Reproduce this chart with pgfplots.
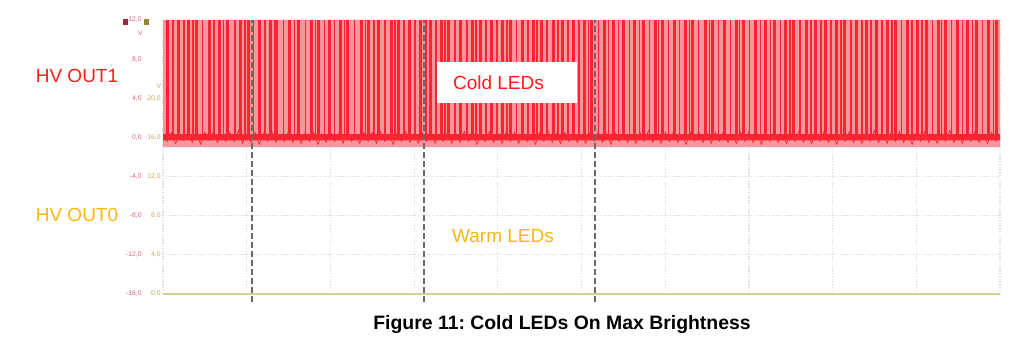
\documentclass[border=0pt]{standalone}
\usepackage{pgfplots}
\pgfplotsset{compat=1.18}
\usepackage{fontspec}
\setmainfont{Liberation Sans}
\definecolor{pinkbg}{RGB}{246,150,158}
\definecolor{darkred}{RGB}{250,36,50}
\definecolor{labred}{RGB}{255,28,28}
\definecolor{warm}{RGB}{252,182,20}
\definecolor{ticpink}{RGB}{222,100,118}
\definecolor{ticolive}{RGB}{192,172,96}
\definecolor{ch2}{RGB}{214,204,158}
\definecolor{gridc}{RGB}{220,225,225}
\definecolor{cursor}{RGB}{105,105,105}
\definecolor{sqred}{RGB}{160,40,55}
\definecolor{sqolive}{RGB}{150,135,50}
\begin{document}
\frenchspacing
\begin{tikzpicture}
\useasboundingbox (0,0) rectangle (512pt,174pt);
\begin{axis}[
  at={(81.5pt,27pt)}, anchor=south west,
  scale only axis, width=418.5pt, height=137pt,
  xmin=0, xmax=10, ymin=-16, ymax=12,
  xtick={0,1,...,10}, xticklabels={},
  ytick={-16,-12,...,12},
  grid=major,
  major grid style={gridc, line width=0.6pt, dash pattern=on 0.7pt off 0.7pt},
  axis line style={draw=none}, tick style={draw=none},
  ytick align=inside,
  yticklabel style={font=\fontsize{3.4}{4}\selectfont, text=ticpink, inner sep=0pt, anchor=east, xshift=-10.5pt,
    /pgf/number format/.cd, use comma, fixed, fixed zerofill, precision=1, assume math mode=true},
  clip=false,
]
% light pink envelope of the pulse train
\addplot[fill=pinkbg, draw=none] coordinates {(0,-1.0) (10,-1.0) (10,12) (0,12) (0,-1.0)};
% dark pulses (wide)
\addplot[ycomb, draw=darkred, line width=1.5pt, mark=none] coordinates {
(0.05,12)(0.19,12)(0.31,12)(0.40,12)(0.55,12)(0.68,12)(0.77,12)(0.93,12)(1.02,12)(1.15,12)(1.29,12)(1.36,12)(1.51,12)(1.62,12)(1.78,12)(1.86,12)(1.99,12)(2.12,12)(2.21,12)(2.37,12)(2.46,12)(2.58,12)(2.73,12)(2.81,12)(2.95,12)(3.08,12)(3.19,12)(3.33,12)(3.41,12)(3.56,12)(3.70,12)(3.79,12)(3.92,12)(4.06,12)(4.15,12)(4.29,12)(4.43,12)(4.52,12)(4.66,12)(4.77,12)(4.91,12)(5.03,12)(5.12,12)(5.27,12)(5.38,12)(5.50,12)(5.63,12)(5.74,12)(5.88,12)(5.97,12)(6.11,12)(6.24,12)(6.33,12)(6.48,12)(6.57,12)(6.71,12)(6.85,12)(6.93,12)(7.08,12)(7.20,12)(7.31,12)(7.44,12)(7.53,12)(7.69,12)(7.80,12)(7.91,12)(8.05,12)(8.14,12)(8.29,12)(8.40,12)(8.52,12)(8.66,12)(8.75,12)(8.89,12)(9.01,12)(9.12,12)(9.26,12)(9.35,12)(9.49,12)(9.61,12)(9.72,12)(9.86,12)(9.96,12)};
% dark pulses (narrow)
\addplot[ycomb, draw=darkred, line width=0.7pt, mark=none] coordinates {
(0.12,12)(0.25,12)(0.36,12)(0.47,12)(0.61,12)(0.72,12)(0.86,12)(0.98,12)(1.08,12)(1.22,12)(1.33,12)(1.44,12)(1.57,12)(1.70,12)(1.82,12)(1.93,12)(2.05,12)(2.17,12)(2.29,12)(2.42,12)(2.52,12)(2.65,12)(2.77,12)(2.88,12)(3.01,12)(3.14,12)(3.26,12)(3.37,12)(3.49,12)(3.63,12)(3.74,12)(3.86,12)(3.99,12)(4.11,12)(4.22,12)(4.36,12)(4.47,12)(4.59,12)(4.72,12)(4.84,12)(4.97,12)(5.08,12)(5.20,12)(5.32,12)(5.44,12)(5.57,12)(5.69,12)(5.81,12)(5.92,12)(6.04,12)(6.17,12)(6.29,12)(6.40,12)(6.53,12)(6.64,12)(6.78,12)(6.89,12)(7.01,12)(7.14,12)(7.26,12)(7.38,12)(7.49,12)(7.61,12)(7.74,12)(7.86,12)(7.98,12)(8.10,12)(8.22,12)(8.35,12)(8.46,12)(8.59,12)(8.71,12)(8.82,12)(8.95,12)(9.07,12)(9.19,12)(9.30,12)(9.42,12)(9.55,12)(9.67,12)(9.79,12)(9.92,12)};
% baseline band and noise
\addplot[fill=darkred, draw=none] coordinates {(0,-0.3) (10,-0.3) (10,0.35) (0,0.35) (0,-0.3)};
\addplot[darkred, line width=0.35pt, mark=none] coordinates {
(0,0.3)(0.05,-0.4)(0.1,0.5)(0.15,-0.6)(0.2,0.2)(0.25,-0.3)(0.3,0.6)(0.35,-0.5)(0.4,0.4)(0.45,-0.7)(0.5,0.5)(0.55,-0.3)(0.6,0.6)(0.65,-0.5)(0.7,0.2)(0.75,-0.4)(0.8,0.5)(0.85,-0.4)(0.9,0.7)(0.95,-0.6)(1.0,0.3)(1.05,-0.5)(1.1,0.5)(1.15,-0.7)(1.2,0.4)(1.25,-0.4)(1.3,0.6)(1.35,-0.5)(1.4,0.3)(1.45,-0.4)(1.5,0.6)(1.55,-0.5)(1.6,0.4)(1.65,-0.6)(1.7,0.5)(1.75,-0.4)(1.8,0.5)(1.85,-0.7)(1.9,0.3)(1.95,-0.5)(2.0,0.6)(2.05,-0.4)(2.1,0.4)(2.15,-0.6)(2.2,0.7)(2.25,-0.4)(2.3,0.3)(2.35,-0.6)(2.4,0.5)(2.45,-0.4)(2.5,0.5)(2.55,-0.6)(2.6,0.6)(2.65,-0.4)(2.7,0.3)(2.75,-0.7)(2.8,0.5)(2.85,-0.4)(2.9,0.6)(2.95,-0.5)(3.0,0.4)(3.05,-0.6)(3.1,0.5)(3.15,-0.4)(3.2,0.7)(3.25,-0.6)(3.3,0.3)(3.35,-0.4)(3.4,0.5)(3.45,-0.6)(3.5,0.4)(3.55,-0.5)(3.6,0.6)(3.65,-0.4)(3.7,0.5)(3.75,-0.7)(3.8,0.3)(3.85,-0.4)(3.9,0.6)(3.95,-0.5)(4.0,0.4)(4.05,-0.6)(4.1,0.5)(4.15,-0.4)(4.2,0.5)(4.25,-0.6)(4.3,0.6)(4.35,-0.4)(4.4,0.3)(4.45,-0.7)(4.5,0.5)(4.55,-0.4)(4.6,0.7)(4.65,-0.5)(4.7,0.4)(4.75,-0.6)(4.8,0.5)(4.85,-0.4)(4.9,0.6)(4.95,-0.5)(5.0,0.3)(5.05,-0.6)(5.1,0.5)(5.15,-0.4)(5.2,0.6)(5.25,-0.5)(5.3,0.4)(5.35,-0.7)(5.4,0.5)(5.45,-0.4)(5.5,0.6)(5.55,-0.5)(5.6,0.3)(5.65,-0.6)(5.7,0.5)(5.75,-0.4)(5.8,0.7)(5.85,-0.5)(5.9,0.4)(5.95,-0.6)(6.0,0.5)(6.05,-0.4)(6.1,0.6)(6.15,-0.5)(6.2,0.3)(6.25,-0.7)(6.3,0.5)(6.35,-0.4)(6.4,0.6)(6.45,-0.5)(6.5,0.4)(6.55,-0.6)(6.6,0.5)(6.65,-0.4)(6.7,0.7)(6.75,-0.5)(6.8,0.3)(6.85,-0.6)(6.9,0.5)(6.95,-0.4)(7.0,0.6)(7.05,-0.5)(7.1,0.4)(7.15,-0.7)(7.2,0.5)(7.25,-0.4)(7.3,0.6)(7.35,-0.5)(7.4,0.3)(7.45,-0.6)(7.5,0.5)(7.55,-0.4)(7.6,0.7)(7.65,-0.5)(7.7,0.4)(7.75,-0.6)(7.8,0.5)(7.85,-0.4)(7.9,0.6)(7.95,-0.5)(8.0,0.3)(8.05,-0.7)(8.1,0.5)(8.15,-0.4)(8.2,0.6)(8.25,-0.5)(8.3,0.4)(8.35,-0.6)(8.4,0.5)(8.45,-0.4)(8.5,0.7)(8.55,-0.5)(8.6,0.3)(8.65,-0.6)(8.7,0.5)(8.75,-0.4)(8.8,0.6)(8.85,-0.5)(8.9,0.4)(8.95,-0.7)(9.0,0.5)(9.05,-0.4)(9.1,0.6)(9.15,-0.5)(9.2,0.3)(9.25,-0.6)(9.3,0.5)(9.35,-0.4)(9.4,0.7)(9.45,-0.5)(9.5,0.4)(9.55,-0.6)(9.6,0.5)(9.65,-0.4)(9.7,0.6)(9.75,-0.5)(9.8,0.3)(9.85,-0.6)(9.9,0.5)(9.95,-0.4)(10.0,0.3)};
% channel 2 (warm LEDs) flat at 0 V
\addplot[ch2, line width=1pt, mark=none] coordinates {(0,-16) (10,-16)};
% cursors
\addplot[cursor, line width=0.6pt, dash pattern=on 3pt off 1.5pt, mark=none] coordinates {(1.063,-16.8) (1.063,12)};
\addplot[cursor, line width=0.6pt, dash pattern=on 3pt off 1.5pt, mark=none] coordinates {(3.118,-16.8) (3.118,12)};
\addplot[cursor, line width=0.6pt, dash pattern=on 3pt off 1.5pt, mark=none] coordinates {(5.161,-16.8) (5.161,12)};
\end{axis}
\begin{axis}[
  at={(81.5pt,27pt)}, anchor=south west,
  scale only axis, width=418.5pt, height=137pt,
  xmin=0, xmax=10, ymin=0, ymax=28,
  xtick=\empty, ytick={0,4,...,20},
  axis line style={draw=none}, tick style={draw=none},
  ytick align=inside,
  yticklabel style={font=\fontsize{3.4}{4}\selectfont, text=ticolive, inner sep=0pt, anchor=east, xshift=-1pt,
    /pgf/number format/.cd, use comma, fixed, fixed zerofill, precision=1, assume math mode=true},
]
\end{axis}
% unit markers
\fill[sqred] (61.5pt,161.5pt) rectangle (64pt,164.5pt);
\fill[sqolive] (72pt,161.5pt) rectangle (74.5pt,164.5pt);
\node[anchor=east, inner sep=0pt, font=\fontsize{3.4}{4}\selectfont, text=ticpink] at (71.5pt,157.5pt) {V};
\node[anchor=east, inner sep=0pt, font=\fontsize{3.4}{4}\selectfont, text=ticolive] at (80.8pt,131pt) {V};
% labels
\node[font=\fontsize{9.5}{11}\selectfont, text=labred] at (38.5pt,136pt) {HV OUT1};
\node[font=\fontsize{9.5}{11}\selectfont, text=warm] at (38.5pt,66.5pt) {HV OUT0};
\fill[white] (218.5pt,122.5pt) rectangle (288.5pt,143pt);
\node[font=\fontsize{9.5}{11}\selectfont, text=labred] at (249.25pt,132.5pt) {Cold LEDs};
\node[font=\fontsize{9.5}{11}\selectfont, text=warm] at (251.5pt,56pt) {Warm LEDs};
\node[font=\bfseries\fontsize{9.7}{11}\selectfont] at (281pt,11.5pt) {Figure 11: Cold LEDs On Max Brightness};
\end{tikzpicture}
\end{document}
